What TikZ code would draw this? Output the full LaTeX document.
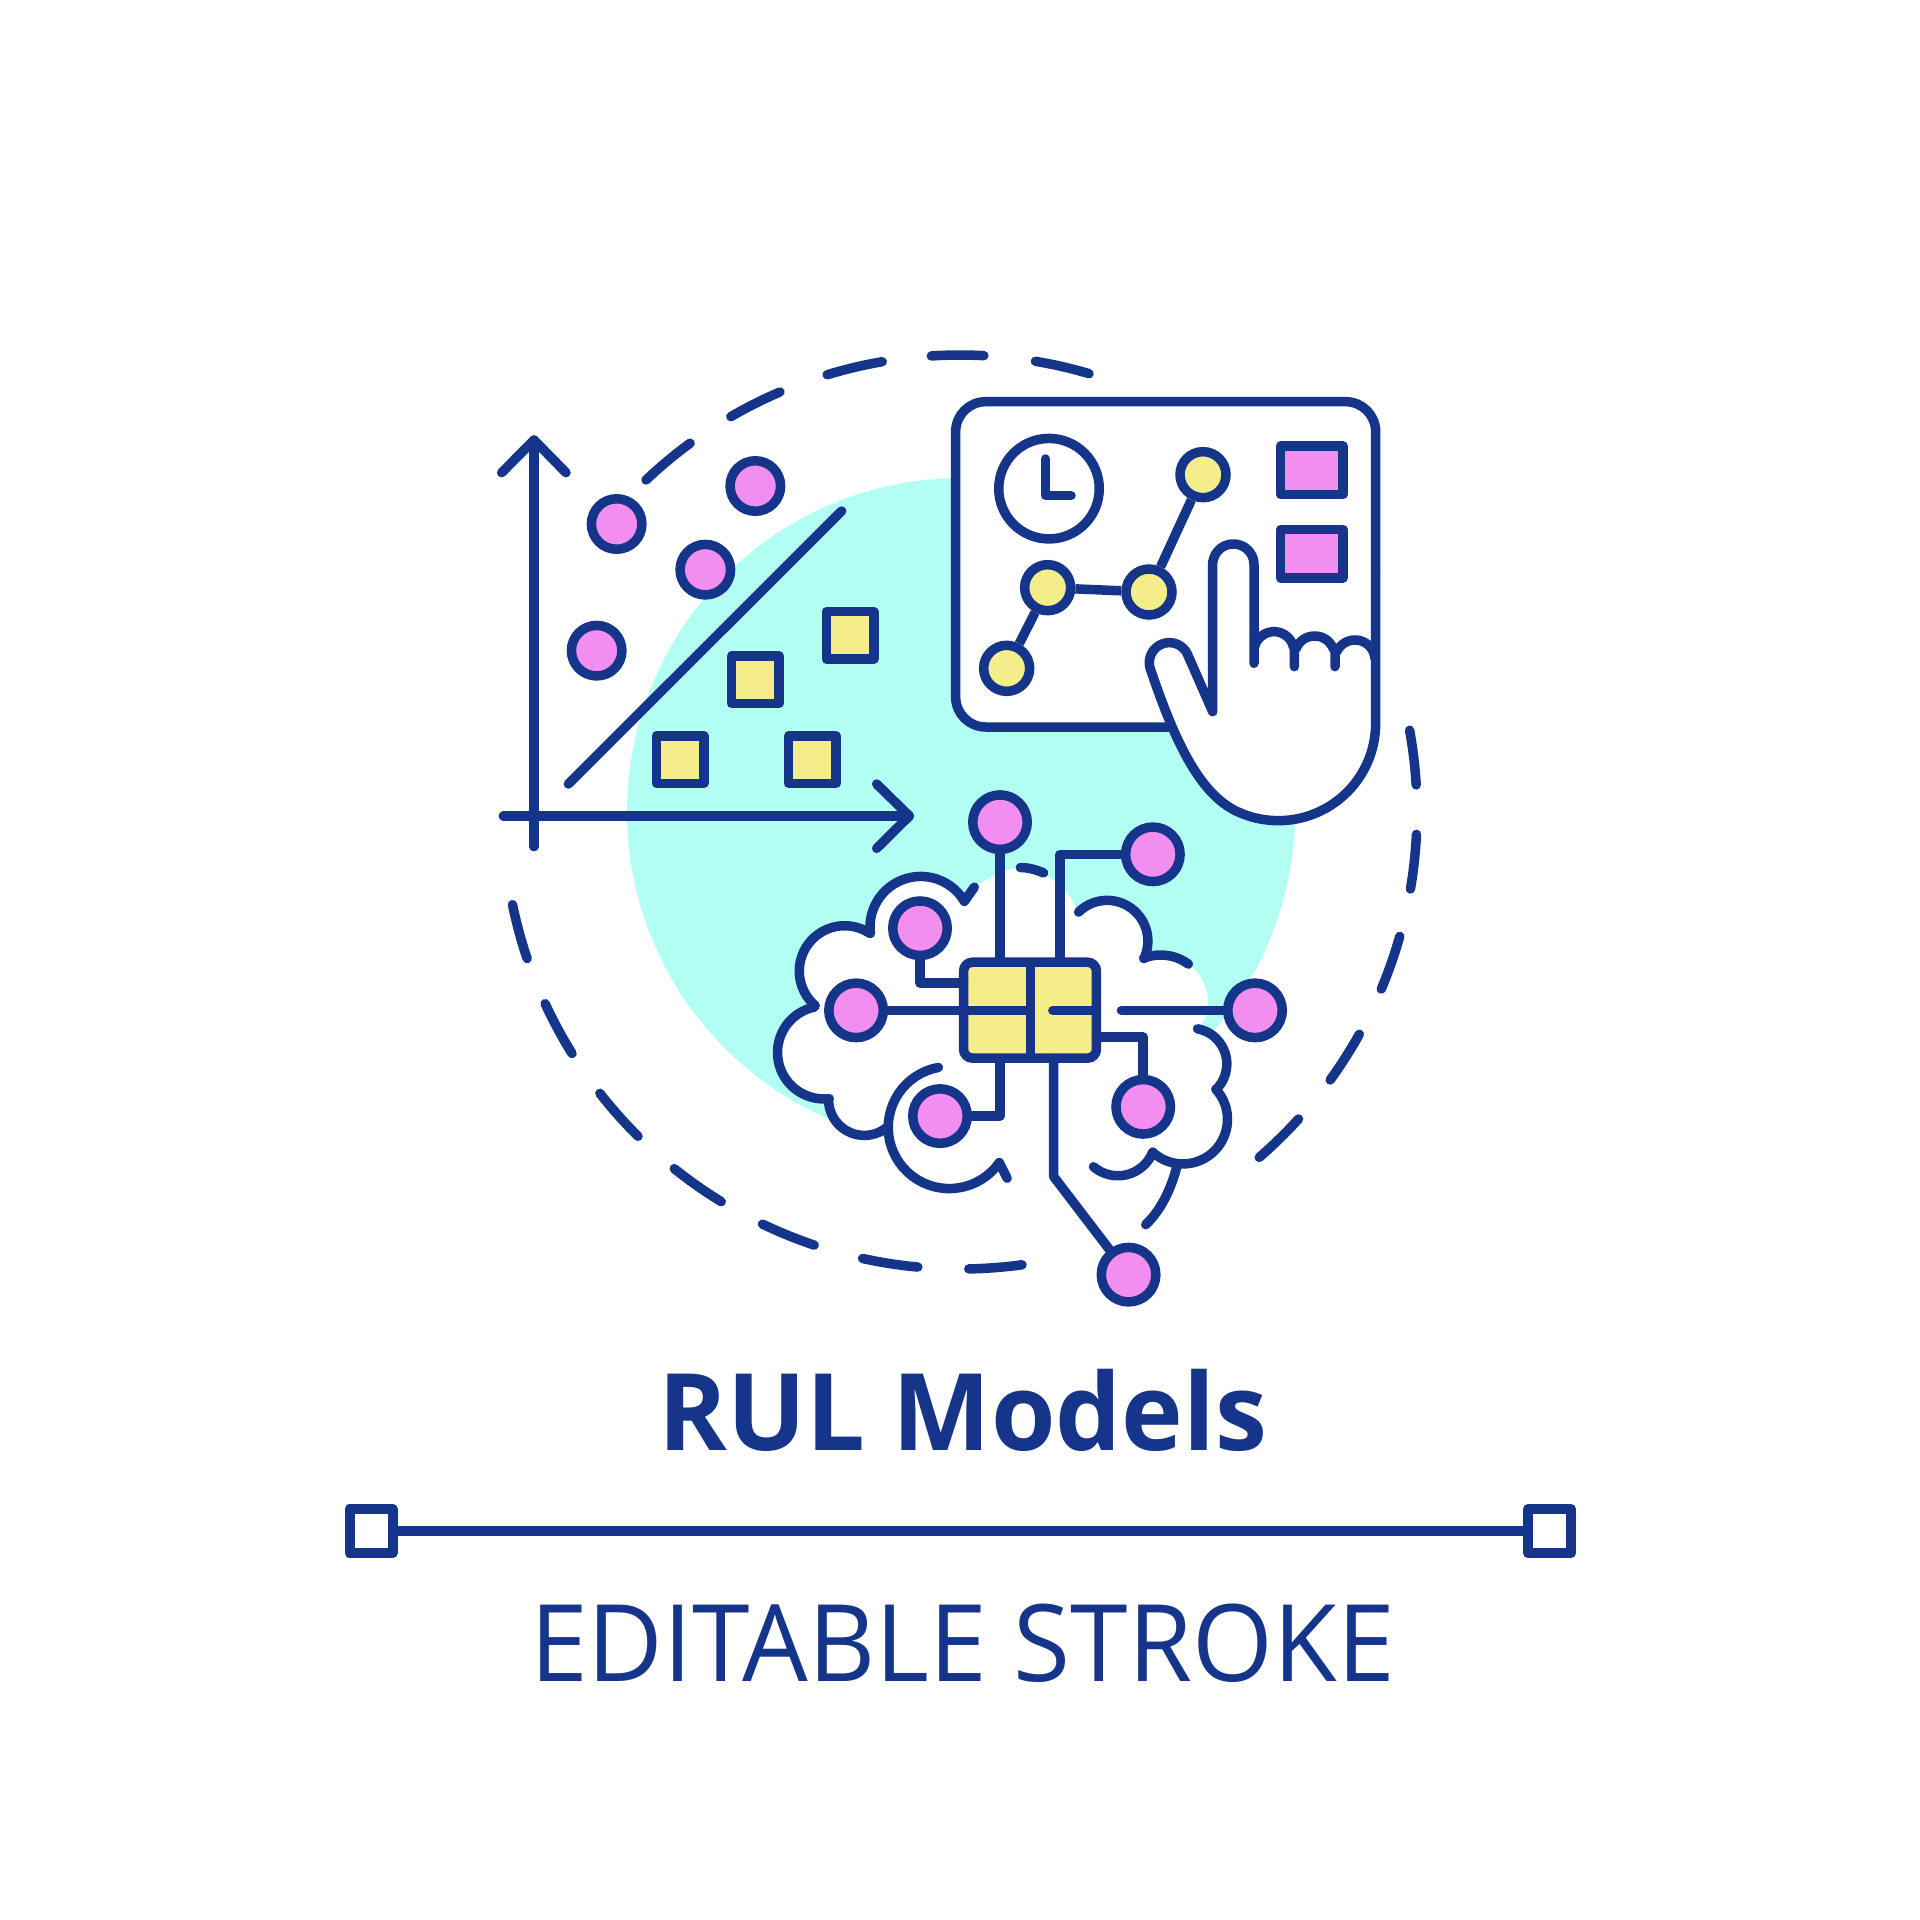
\documentclass[tikz,border=0pt]{standalone}
\usepackage{fontspec}
\setmainfont{Open Sans}
\definecolor{navy}{HTML}{14358A}
\definecolor{pinkf}{HTML}{F18EF0}
\definecolor{yellf}{HTML}{F5ED8A}
\definecolor{aqua}{HTML}{B2FFF3}
\newcommand\lob[5]{plot[domain=#4:#5,samples=40,variable=\t] ({#1+#3*cos(\t)},{#2+#3*sin(\t)})}
\newcommand\jlob[5]{-- plot[domain=#4:#5,samples=40,variable=\t] ({#1+#3*cos(\t)},{#2+#3*sin(\t)})}
\tikzset{
  ln/.style={draw=navy,line width=9.5pt,line cap=round,line join=round},
  pdot/.style={circle,draw=navy,fill=pinkf,line width=9.5pt,minimum size=50.5pt,inner sep=0pt},
  tdot/.style={circle,draw=navy,fill=pinkf,line width=9.5pt,minimum size=54.5pt,inner sep=0pt},
  ydot/.style={circle,draw=navy,fill=yellf,line width=9.5pt,minimum size=46pt,inner sep=0pt},
  ysq/.style={rectangle,draw=navy,fill=yellf,line width=9.5pt,line join=round,minimum size=47.5pt,inner sep=0pt},
  prect/.style={rectangle,draw=navy,fill=pinkf,line width=9.5pt,line join=round,minimum width=62.5pt,minimum height=48.5pt,inner sep=0pt},
  wsq/.style={rectangle,draw=navy,fill=white,line width=10pt,line join=round,minimum width=43pt,minimum height=44pt,inner sep=0pt},
}
\begin{document}
\begin{tikzpicture}[x=1pt,y=-1pt]
\useasboundingbox (0,0) rectangle (1920,1920);
\fill[white] (0,0) rectangle (1920,1920);
% aqua disc
\fill[aqua] (961,812) circle[radius=334];
% dashed ring
\foreach \a/\b in {-133.4/-126.2,-120.1/-113.2,-106.9/-99.8,-93.6/-87,-80.5/-73.6,-10.3/-3.4,2.8/9.7,15.8/22.8,29.1/35.9,42.2/49.1,82.2/88.9,95.3/102.3,108.6/115.6,121.5/128.7,134.8/142,148.1/155.2,161.3/168.3}
  \draw[ln] plot[domain=\a:\b,samples=9,smooth] ({960+457*cos(\x)},{812+457*sin(\x)});

% ---------- chart ----------
\begin{scope}[shift={(480,340)},x=0.33333pt,y=-0.33333pt]
\coordinate (yb) at (162,1520); \coordinate (yt) at (162,300);
\coordinate (xl) at (70,1428); \coordinate (xr) at (1288,1428);
\draw[ln] (yb) -- (yt);
\draw[ln] (65,398) -- (yt) -- (258,398);
\draw[ln] (xl) -- (xr);
\draw[ln] (1190,1332) -- (xr) -- (1190,1525);
\coordinate (d1) at (265,1332); \coordinate (d2) at (1085,513);
\draw[ln] (d1) -- (d2);
\node[pdot] (c1) at (410,552) {};
\node[pdot] (c2) at (826,438) {};
\node[pdot] (c3) at (676,689) {};
\node[pdot] (c4) at (350,932) {};
\node[ysq] (s1) at (1110,886) {};
\node[ysq] (s2) at (826,1019) {};
\node[ysq] (s3) at (600,1259) {};
\node[ysq] (s4) at (997,1259) {};
\end{scope}

% ---------- panel ----------
\begin{scope}[shift={(920,340)},x=0.33333pt,y=-0.33333pt]
\draw[ln,fill=white,rounded corners=30pt] (745,1161) -- (107,1161) -- (107,185) -- (1367,185) -- (1367,700);
\fill[white] (1364,700) -- (1364,1150) -- (1367,1150) \jlob{1075}{1150}{292}{0}{115}
 .. controls (834,1360) and (760,1190) .. (691.6,988.5) -- (760,800) -- cycle;
\draw[ln] (1367,700) -- (1367,1150) \jlob{1075}{1150}{292}{0}{115}
 .. controls (834,1360) and (760,1190) .. (691.6,988.5)
 \jlob{748}{968}{60}{160}{335}
 -- (878,1115) -- (878,674)
 \jlob{940}{674}{62}{180}{360} -- (1002,970);
\draw[ln] \lob{1062}{935}{60}{195}{345} -- (1123,925) -- (1123,980);
\draw[ln] \lob{1184}{948}{60}{200}{340} -- (1245,930) -- (1245,980);
\draw[ln] \lob{1305}{960}{60}{205}{355};
% clock
\node[circle,draw=navy,line width=9.5pt,minimum size=100.5pt,inner sep=0pt] (clock) at (387,446) {};
\coordinate (h1) at (377,357); \coordinate (h2) at (377,467); \coordinate (h3) at (453,467);
\draw[ln] (h1) -- (h2) -- (h3);
% graph
\node[ydot] (g1) at (260,985) {};
\node[ydot] (g2) at (383,743) {};
\node[ydot] (g3) at (687,756) {};
\node[ydot] (g4) at (849,404) {};
\draw[ln,line cap=butt] (g1) -- (g2);
\draw[ln,line cap=butt] (g2) -- (g3);
\draw[ln,line cap=butt] (g3) -- (g4);
\node[prect] (r1) at (1175,391) {};
\node[prect] (r2) at (1175,641) {};
\end{scope}

% ---------- brain ----------
\begin{scope}[shift={(750,780)},x=0.35714pt,y=-0.35714pt]
\fill[white]
 \lob{478}{412}{142}{-187.2}{-30.6} -- (628,300)
 .. controls (680,265) and (720,248) .. (757,245)
 .. controls (810,245) and (885,290) .. (920,370)
 \jlob{1000}{451}{114}{-134.6}{25.4}
 \jlob{1150}{620}{130}{-111.4}{-53.5}
 .. controls (1285,555) and (1305,650) .. (1253,697)
 \jlob{1235}{795}{100}{-79.6}{45}
 \jlob{1212}{950}{125}{-42.4}{100}
 -- (1108,1245) -- (720,1115) -- (700,1073)
 \jlob{558}{973}{171}{35}{180}
 \jlob{320}{895}{100}{53}{180}
 \jlob{207}{763}{130}{-276.6}{-101.9}
 \jlob{265}{535}{127}{-229.6}{-56.3}
 -- cycle;
% outline, left
\draw[ln] \lob{478}{412}{142}{-187.2}{-30.6} -- (628,300);
\draw[ln] \lob{265}{535}{127}{-56.3}{-229.6};
\draw[ln] \lob{207}{763}{130}{-101.9}{-276.6};
\draw[ln] \lob{320}{895}{100}{180}{53};
\draw[ln] \lob{558}{973}{171}{259.7}{35} -- (720,1115);
% outline, right
\draw[ln] (757,245) .. controls (780,245) and (800,251) .. (822,260);
\draw[ln] \lob{1000}{451}{114}{-134.6}{25.4};
\draw[ln] \lob{1150}{620}{130}{-111.4}{-53.5};
\draw[ln] \lob{1235}{795}{100}{-79.6}{45};
\draw[ln] \lob{1212}{950}{125}{-42.4}{132.4};
\draw[ln] \lob{1030}{1003}{105}{21.7}{130.5};
\draw[ln] (1197,1075) .. controls (1180,1145) and (1150,1205) .. (1108,1245);
% chip
\node[rectangle,draw=navy,fill=yellf,line width=9.5pt,rounded corners=9pt,minimum width=132.9pt,minimum height=96pt,inner sep=0pt] (chip) at (784,644.5) {};
\coordinate (cN1) at (700,510); \coordinate (cN2) at (868,510);
\coordinate (cW1) at (598,568); \coordinate (cW2) at (598,645);
\coordinate (cS1) at (700,779); \coordinate (cS2) at (850,779);
\coordinate (cE1) at (970,720);
\coordinate (dT) at (785,510); \coordinate (dB) at (785,779);
\coordinate (hL) at (785,645); \coordinate (hR1) at (848,645); \coordinate (hR2) at (970,645);
\coordinate (fr) at (1040,645);
\draw[ln,line cap=butt] (dT) -- (dB);
\draw[ln,line cap=butt] (cW2) -- (hL);
\draw[ln] (hR1) -- (hR2);
% pink terminals
\node[tdot] (t1) at (700,118) {};
\node[tdot] (t2) at (1128,208) {};
\node[tdot] (t3) at (476,415) {};
\node[tdot] (t4) at (297,645) {};
\node[tdot] (t5) at (1414,645) {};
\node[tdot] (t6) at (532,941) {};
\node[tdot] (t7) at (1101,915) {};
\node[tdot] (t8) at (1060,1385) {};
\coordinate (b1) at (868,208); \coordinate (b2) at (476,568);
\coordinate (b3) at (1101,720); \coordinate (b4) at (700,941); \coordinate (b5) at (850,1110);
\draw[ln] (t1) -- (cN1);
\draw[ln] (t2) -- (b1) -- (cN2);
\draw[ln] (t3) -- (b2) -- (cW1);
\draw[ln] (t4) -- (cW2);
\draw[ln] (fr) -- (t5);
\draw[ln] (cE1) -- (b3) -- (t7);
\draw[ln] (cS1) -- (b4) -- (t6);
\draw[ln] (cS2) -- (b5) -- (t8);
\end{scope}

% ---------- caption ----------
\node[text=navy,font=\fontsize{107}{107}\selectfont\bfseries,inner sep=0pt,anchor=base] (title) at (963,1450) {\scalebox{0.975}[1]{RUL Models}};
\node[wsq] (bl) at (371,1531) {};
\node[wsq] (br) at (1549.5,1531) {};
\draw[navy,line width=9.5pt] (bl) -- (br);
\node[text=navy,font=\fontsize{107}{107}\selectfont,inner sep=0pt,anchor=base] (sub) at (962.5,1681) {\scalebox{0.97}[1]{EDITABLE STROKE}};
\end{tikzpicture}
\end{document}
